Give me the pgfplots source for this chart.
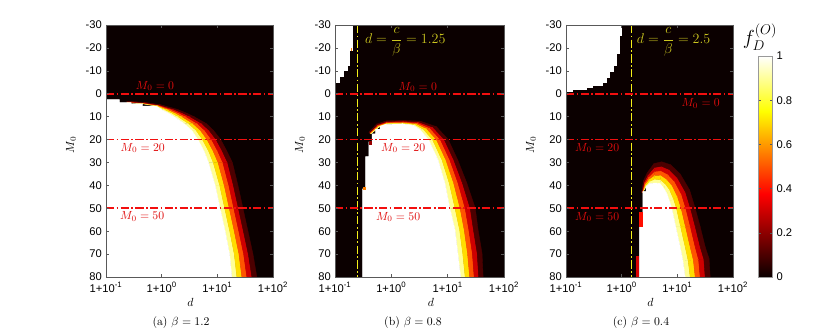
\documentclass[border=0pt]{standalone}
\usepackage{fontspec}
\usepackage{amsmath}
\usepackage{pgfplots}
\pgfplotsset{compat=1.18}
\newfontfamily\hv{Liberation Sans}

\definecolor{hotblack}{rgb}{0.0417,0,0}
\definecolor{linered}{rgb}{0.95,0.06,0.06}
\definecolor{lblred}{rgb}{0.88,0.05,0.05}
\definecolor{lineyel}{rgb}{0.96,0.94,0.10}
\definecolor{lblyel}{rgb}{0.80,0.78,0.12}
\definecolor{axgray}{rgb}{0.35,0.35,0.35}

\tikzset{
  mline/.style={color=linered, line width=1.6pt, dash pattern=on 7pt off 2pt on 1.5pt off 2pt},
  yline/.style={color=lineyel, line width=1.5pt, dash pattern=on 7pt off 2pt on 1.5pt off 2pt},
}
\pgfplotsset{
  panel/.style={
    scale only axis, width=#1, height=214.2pt,
    xmin=-1, xmax=2, ymin=-30, ymax=80, y dir=reverse,
    enlargelimits=false, axis on top,
    axis background/.style={fill=hotblack},
    colormap={mathot}{[1pt] rgb(0pt)=(0.0417,0,0); rgb(3pt)=(1,0,0); rgb(6pt)=(1,1,0); rgb(8pt)=(1,1,1)},
    point meta min=0, point meta max=1,
    xtick={-1,0,1,2},
    xticklabels={1+10\textsuperscript{-1},1+10\textsuperscript{0},1+10\textsuperscript{1},1+10\textsuperscript{2}},
    ytick={-30,-20,...,80},
    yticklabels={-30,-20,-10,0,10,20,30,40,50,60,70,80},
    tick label style={font=\hv\fontsize{9.5}{11}\selectfont},
    xticklabel style={yshift=-1pt},
    tick align=inside, major tick length=2.6pt, tick pos=both,
    axis line style={axgray, line width=0.5pt},
    tick style={axgray, line width=0.4pt},
  },
  band/.style={surf, shader=faceted, faceted color=mapped color, line width=0.3pt,
    mesh/cols=6, point meta=explicit},
  whiteregion/.style={fill=white, draw=white, line width=0.4pt},
}

\begin{document}
\begin{tikzpicture}
\path[use as bounding box] (0,0) rectangle (694.45pt,282.2pt);

% ---------- (a) beta = 1.2
\begin{axis}[panel=141.95pt, at={(90.1pt,46.75pt)}, anchor=south west]
\addplot[band] table[meta=c] {
x y c
-0.62 3.9 1
-0.62 3.78 0.8
-0.62 3.66 0.6
-0.62 3.54 0.4
-0.62 3.42 0.2
-0.62 3.3 0
-0.34 4.4 1
-0.332 4.28 0.8
-0.324 4.16 0.6
-0.316 4.04 0.4
-0.308 3.92 0.2
-0.30 3.8 0
-0.10 5.4 1
-0.084 5.28 0.8
-0.068 5.16 0.6
-0.052 5.04 0.4
-0.036 4.92 0.2
-0.02 4.8 0
0.00 7.0 1
0.056 6.96 0.8
0.112 6.92 0.6
0.168 6.88 0.4
0.224 6.84 0.2
0.28 6.8 0
0.12 8.5 1
0.186 8.5 0.8
0.252 8.5 0.6
0.318 8.5 0.4
0.384 8.5 0.2
0.45 8.5 0
0.22 10 1
0.292 10 0.8
0.364 10 0.6
0.436 10 0.4
0.508 10 0.2
0.58 10 0
0.40 13 1
0.48 13 0.8
0.56 13 0.6
0.64 13 0.4
0.72 13 0.2
0.80 13 0
0.54 16 1
0.618 16 0.8
0.696 16 0.6
0.774 16 0.4
0.852 16 0.2
0.93 16 0
0.65 20 1
0.732 20 0.8
0.814 20 0.6
0.896 20 0.4
0.978 20 0.2
1.06 20 0
0.76 25 1
0.842 25 0.8
0.924 25 0.6
1.006 25 0.4
1.088 25 0.2
1.17 25 0
0.84 30 1
0.926 30 0.8
1.012 30 0.6
1.098 30 0.4
1.184 30 0.2
1.27 30 0
0.96 40 1
1.042 40 0.8
1.124 40 0.6
1.206 40 0.4
1.288 40 0.2
1.37 40 0
1.05 50 1
1.132 50 0.8
1.214 50 0.6
1.296 50 0.4
1.378 50 0.2
1.46 50 0
1.14 60 1
1.222 60 0.8
1.304 60 0.6
1.386 60 0.4
1.468 60 0.2
1.55 60 0
1.22 70 1
1.304 70 0.8
1.388 70 0.6
1.472 70 0.4
1.556 70 0.2
1.64 70 0
1.26 80 1
1.35 80 0.8
1.44 80 0.6
1.53 80 0.4
1.62 80 0.2
1.71 80 0
};
\addplot[whiteregion] coordinates {
(-1,80) (-1,2.6) (-0.76,2.6) (-0.76,3.9) (-0.55,3.9) (-0.55,4.4)
(-0.34,4.4) (-0.34,5.4) (-0.10,5.4) (0.00,7.0) (0.12,8.5) (0.22,10)
(0.40,13) (0.54,16) (0.65,20) (0.76,25) (0.84,30) (0.96,40)
(1.05,50) (1.14,60) (1.22,70) (1.26,80)} -- cycle;
\addplot[mline] coordinates {(-1,0) (2,0)};
\addplot[mline] coordinates {(-1,20) (2,20)};
\addplot[mline] coordinates {(-1,50) (2,50)};
\node[lblred] at (axis cs:-0.12,-3.4) {$M_0=0$};
\node[lblred] at (axis cs:-0.34,23.7) {$M_0=20$};
\node[lblred] at (axis cs:-0.35,53.6) {$M_0=50$};
\end{axis}

% ---------- (b) beta = 0.8
\begin{axis}[panel=143.65pt, at={(284.75pt,46.75pt)}, anchor=south west]
\addplot[band] table[meta=c] {
x y c
-0.36 17.5 1
-0.368 17.36 0.8
-0.376 17.22 0.6
-0.384 17.08 0.4
-0.392 16.94 0.2
-0.40 16.8 0
-0.22 14.6 1
-0.228 14.32 0.8
-0.236 14.04 0.6
-0.244 13.76 0.4
-0.252 13.48 0.2
-0.26 13.2 0
-0.08 13.3 1
-0.08 13.0 0.8
-0.08 12.7 0.6
-0.08 12.4 0.4
-0.08 12.1 0.2
-0.08 11.8 0
0.20 13.2 1
0.204 12.88 0.8
0.208 12.56 0.6
0.212 12.24 0.4
0.216 11.92 0.2
0.22 11.6 0
0.39 13.8 1
0.416 13.44 0.8
0.442 13.08 0.6
0.468 12.72 0.4
0.494 12.36 0.2
0.52 12.0 0
0.51 15.8 1
0.568 15.52 0.8
0.626 15.24 0.6
0.684 14.96 0.4
0.742 14.68 0.2
0.80 14.4 0
0.66 20 1
0.73 20 0.8
0.80 20 0.6
0.87 20 0.4
0.94 20 0.2
1.01 20 0
0.83 29 1
0.90 29 0.8
0.97 29 0.6
1.04 29 0.4
1.11 29 0.2
1.18 29 0
0.95 39 1
1.028 39 0.8
1.106 39 0.6
1.184 39 0.4
1.262 39 0.2
1.34 39 0
1.04 50 1
1.13 50 0.8
1.22 50 0.6
1.31 50 0.4
1.40 50 0.2
1.49 50 0
1.13 59.5 1
1.212 59.5 0.8
1.294 59.5 0.6
1.376 59.5 0.4
1.458 59.5 0.2
1.54 59.5 0
1.18 69.6 1
1.266 69.6 0.8
1.352 69.6 0.6
1.438 69.6 0.4
1.524 69.6 0.2
1.61 69.6 0
1.23 80 1
1.31 80 0.8
1.39 80 0.6
1.47 80 0.4
1.55 80 0.2
1.63 80 0
};
\addplot[whiteregion] coordinates {
(-1,-30) (-0.69,-30) (-0.69,-19) (-0.75,-19) (-0.75,-12.6) (-0.79,-12.6)
(-0.79,-10.4) (-0.86,-10.4) (-0.86,-7.7) (-0.92,-7.7) (-0.92,-4.8) (-1,-4.8)} -- cycle;
\addplot[fill=orange, draw=none] coordinates {
(-0.72,-19.8) (-0.69,-19.8) (-0.69,-18.6) (-0.72,-18.6)} -- cycle;
\addplot[whiteregion] coordinates {
(-0.51,80) (-0.51,41.5) (-0.455,41.5) (-0.455,27.5) (-0.40,27.5) (-0.40,21)
(-0.34,21) (-0.34,17.5) (-0.28,17.5) (-0.28,15.5) (-0.20,15.5) (-0.20,14.2)
(-0.10,13.4) (0.20,13.2) (0.39,13.8) (0.51,15.8) (0.66,20) (0.83,29)
(0.95,39) (1.04,50) (1.13,59.5) (1.18,69.6) (1.23,80)} -- cycle;
\addplot[fill=orange, draw=none] coordinates {
(-0.51,40.6) (-0.455,40.6) (-0.455,42.2) (-0.51,42.2)} -- cycle;
\addplot[fill=red!60!black, draw=none] coordinates {
(-0.40,20.5) (-0.34,20.5) (-0.34,22.5) (-0.40,22.5)} -- cycle;
\addplot[yline] coordinates {(-0.602,-30) (-0.602,80)};
\addplot[mline] coordinates {(-1,0) (2,0)};
\addplot[mline] coordinates {(-1,20) (2,20)};
\addplot[mline] coordinates {(-1,50) (2,50)};
\node[lblred] at (axis cs:0.47,-2.9) {$M_0=0$};
\node[lblred] at (axis cs:0.21,23.7) {$M_0=20$};
\node[lblred] at (axis cs:0.12,53.8) {$M_0=50$};
\node[lblyel, anchor=west, inner sep=0pt, font=\fontsize{11.5}{13}\selectfont] at (axis cs:-0.47,-22.6) {$d=\dfrac{c}{\beta}=1.25$};
\end{axis}

% ---------- (c) beta = 0.4
\begin{axis}[panel=141.95pt, at={(481.1pt,46.75pt)}, anchor=south west,
  colorbar,
  colorbar style={
    scale only axis, width=12.3pt, height=187.9pt,
    at={(parent axis.south east)}, anchor=south west, xshift=12.75pt,
    ytick={0,0.2,0.4,0.6,0.8,1}, yticklabels={0,0.2,0.4,0.6,0.8,1},
    tick label style={font=\hv\fontsize{9.5}{11}\selectfont},
    tick align=inside, major tick length=2.2pt,
    axis line style={gray!80}, tick style={axgray},
  }]
\addplot[band] table[meta=c] {
x y c
0.38 43 1
0.376 43 0.8
0.372 43 0.6
0.368 43 0.4
0.364 43 0.2
0.36 43 0
0.44 40.6 1
0.43 40.08 0.8
0.42 39.56 0.6
0.41 39.04 0.4
0.40 38.52 0.2
0.39 38.0 0
0.51 39.2 1
0.50 38.26 0.8
0.49 37.32 0.6
0.48 36.38 0.4
0.47 35.44 0.2
0.46 34.5 0
0.60 39.0 1
0.596 37.3 0.8
0.592 35.6 0.6
0.588 33.9 0.4
0.584 32.2 0.2
0.58 30.5 0
0.69 39.5 1
0.696 37.54 0.8
0.702 35.58 0.6
0.708 33.62 0.4
0.714 31.66 0.2
0.72 29.7 0
0.76 41.5 1
0.784 39.4 0.8
0.808 37.3 0.6
0.832 35.2 0.4
0.856 33.1 0.2
0.88 31.0 0
0.81 43.5 1
0.858 41.8 0.8
0.906 40.1 0.6
0.954 38.4 0.4
1.002 36.7 0.2
1.05 35.0 0
0.86 47 1
0.932 46 0.8
1.004 45 0.6
1.076 44 0.4
1.148 43 0.2
1.22 42 0
0.90 50 1
0.984 50 0.8
1.068 50 0.6
1.152 50 0.4
1.236 50 0.2
1.32 50 0
0.97 58 1
1.058 58 0.8
1.146 58 0.6
1.234 58 0.4
1.322 58 0.2
1.41 58 0
1.05 66.8 1
1.14 66.8 0.8
1.23 66.8 0.6
1.32 66.8 0.4
1.41 66.8 0.2
1.50 66.8 0
1.10 73 1
1.194 72.8 0.8
1.288 72.6 0.6
1.382 72.4 0.4
1.476 72.2 0.2
1.57 72 0
1.14 80 1
1.23 80 0.8
1.32 80 0.6
1.41 80 0.4
1.50 80 0.2
1.59 80 0
};
\addplot[whiteregion] coordinates {
(-1,-30) (0.00,-30) (0.00,-25.5) (-0.04,-25.5) (-0.04,-17.5) (-0.10,-17.5)
(-0.10,-12.5) (-0.16,-12.5) (-0.16,-9.6) (-0.22,-9.6) (-0.22,-7.4) (-0.28,-7.4)
(-0.28,-5.2) (-0.35,-5.2) (-0.35,-3.8) (-0.52,-3.8) (-0.52,-2.8) (-0.64,-2.8)
(-0.64,-1.8) (-0.88,-1.8) (-0.88,-0.9) (-1,-0.9)} -- cycle;
\addplot[whiteregion] coordinates {
(0.32,80) (0.32,58) (0.38,58) (0.38,42.6) (0.44,42.6) (0.44,40.6)
(0.51,39.2) (0.60,39.0) (0.69,39.2) (0.76,41.5) (0.81,43.5) (0.86,47)
(0.90,50) (0.97,58) (1.05,66.8) (1.10,73) (1.14,80)} -- cycle;
\addplot[fill=red!85!black, draw=none] coordinates {
(0.26,71) (0.32,71) (0.32,80) (0.26,80)} -- cycle;
\addplot[fill=red!90!orange, draw=none] coordinates {
(0.32,51.5) (0.38,51.5) (0.38,58) (0.32,58)} -- cycle;
\addplot[yline] coordinates {(0.176,-30) (0.176,80)};
\addplot[mline] coordinates {(-1,0) (2,0)};
\addplot[mline] coordinates {(-1,20) (2,20)};
\addplot[mline] coordinates {(-1,50) (2,50)};
\node[lblred] at (axis cs:1.42,4.1) {$M_0=0$};
\node[lblred] at (axis cs:-0.44,23.7) {$M_0=20$};
\node[lblred] at (axis cs:-0.44,53.8) {$M_0=50$};
\node[lblyel, anchor=west, inner sep=0pt, font=\fontsize{11.5}{13}\selectfont] at (axis cs:0.27,-22.6) {$d=\dfrac{c}{\beta}=2.5$};
\end{axis}

% axis labels and captions
\node at (161.9pt,25.5pt) {$d$};
\node at (366.35pt,25.5pt) {$d$};
\node at (552.9pt,25.5pt) {$d$};
\node[rotate=90] at (60.35pt,158.95pt) {$M_0$};
\node[rotate=90] at (255pt,158.95pt) {$M_0$};
\node[rotate=90] at (451.35pt,158.95pt) {$M_0$};
\node at (153.85pt,7.65pt) {(a) $\beta=1.2$};
\node at (351.05pt,7.65pt) {(b) $\beta=0.8$};
\node at (544.85pt,7.65pt) {(c) $\beta=0.4$};
\node at (646pt,250.75pt) {\fontsize{18}{20}\selectfont $f_D^{(O)}$};
\end{tikzpicture}
\end{document}
